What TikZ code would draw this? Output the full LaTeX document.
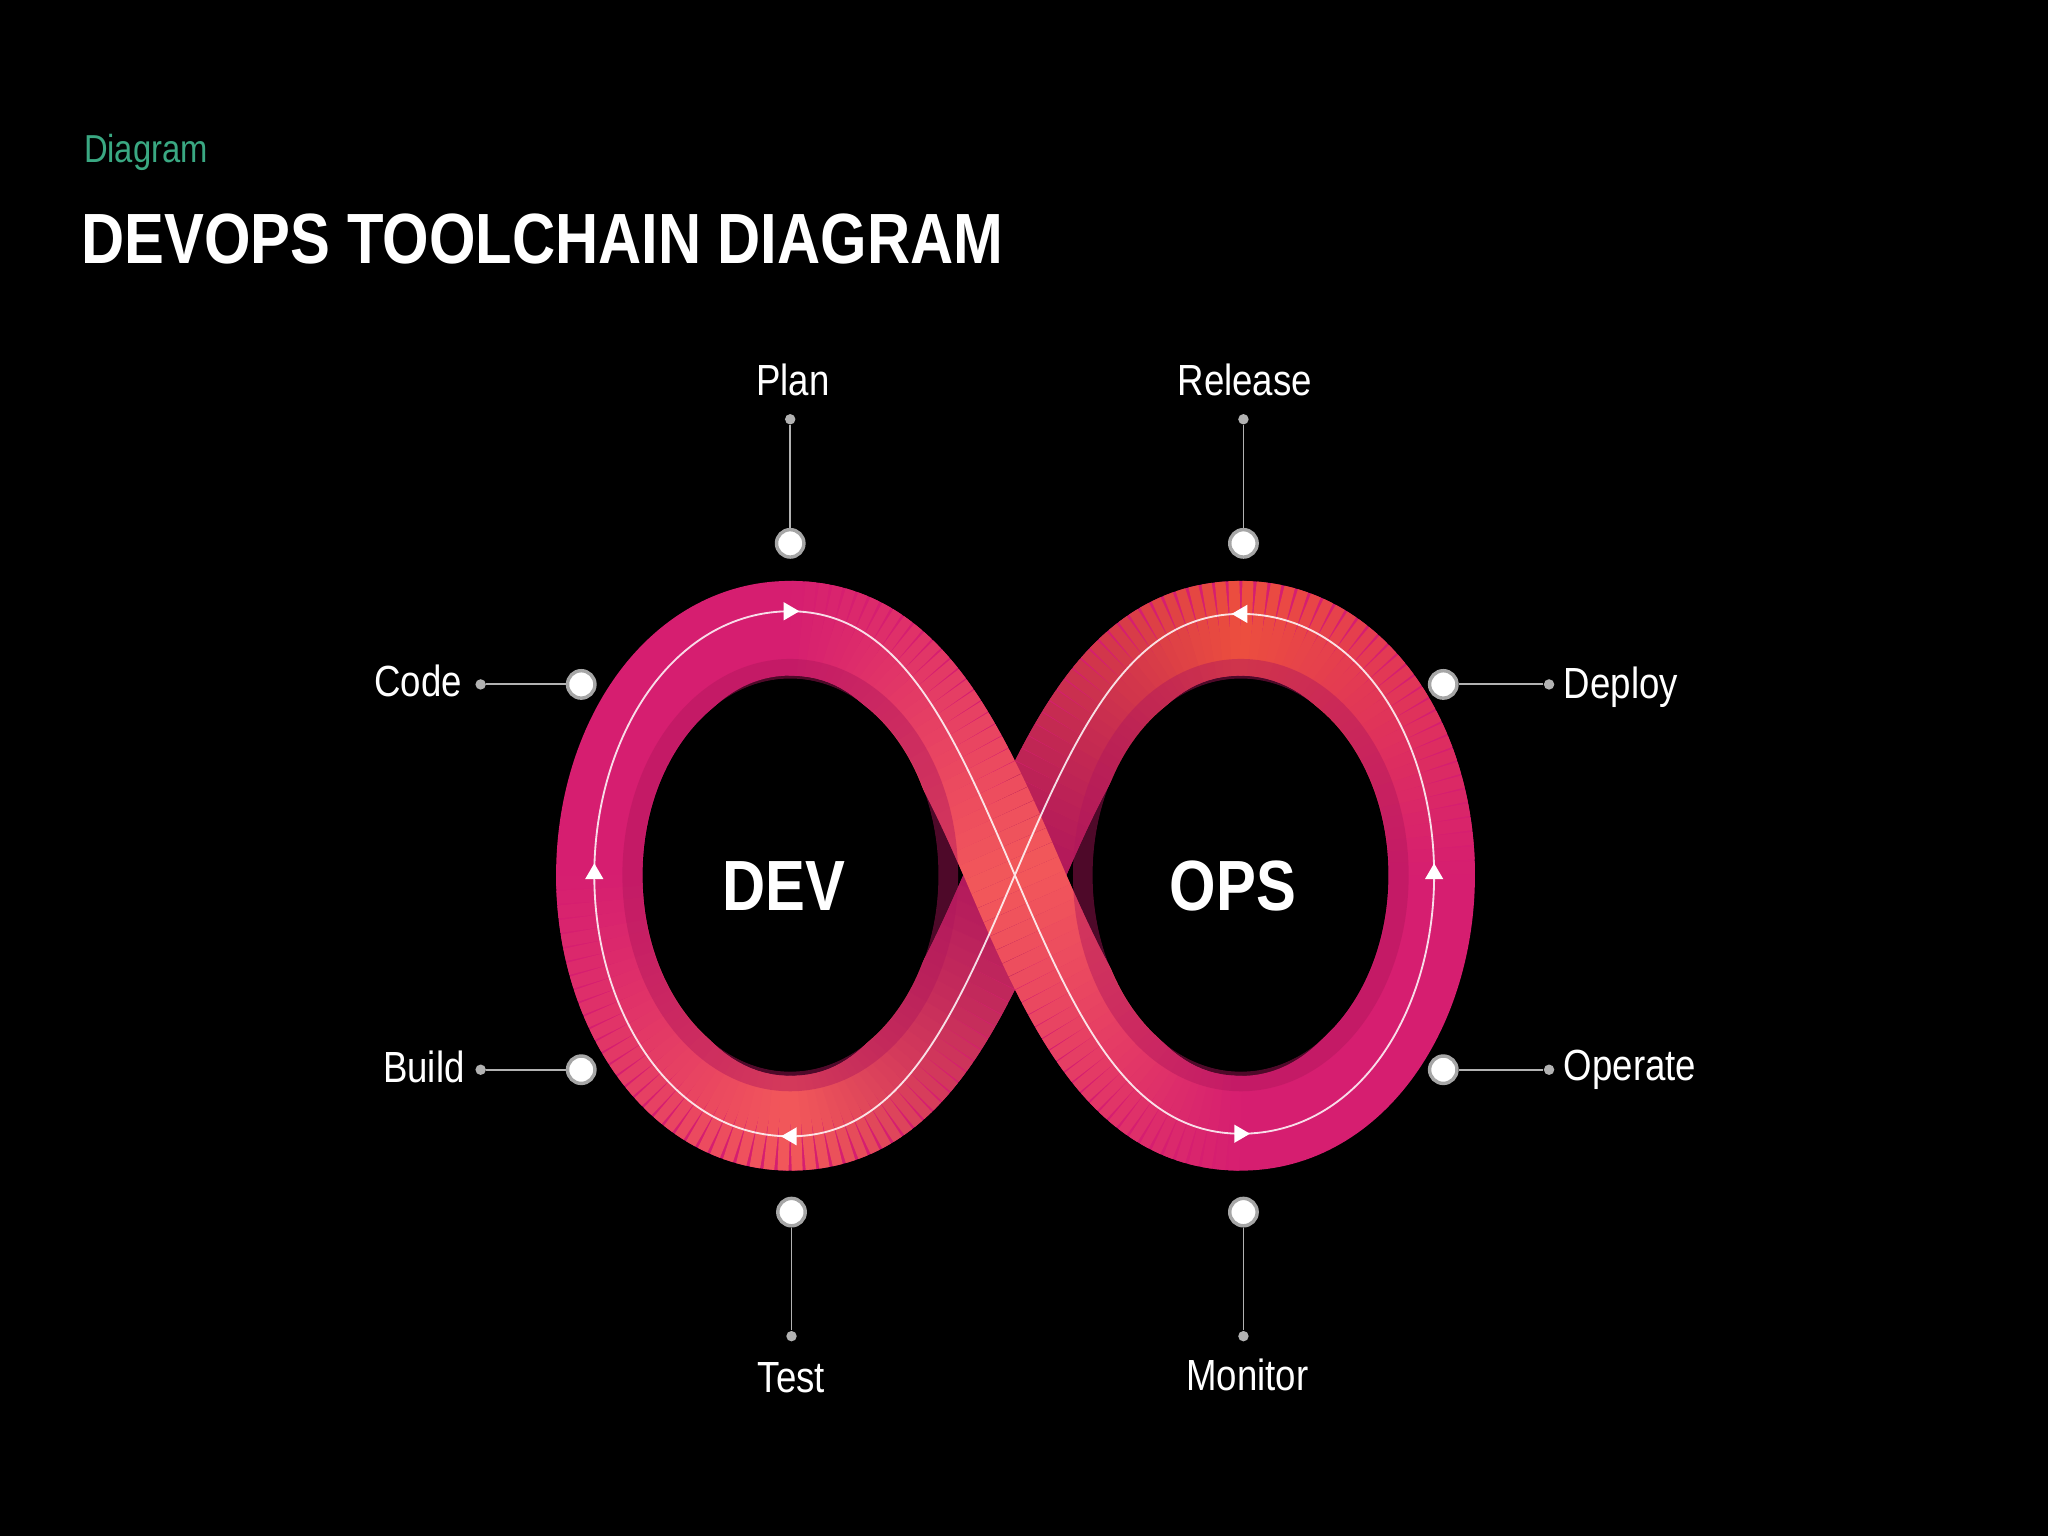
\documentclass[tikz,border=0pt]{standalone}
\usepackage{fontspec}
\setmainfont{Liberation Sans}
\newfontfamily\narrowf[FakeStretch=0.84]{Liberation Sans}
\newcommand\gradcurve[6]{%
 \foreach \i in {0,...,30}{\path #1 .. controls #2 and #3 .. #4 coordinate[pos=\i/30] (gq\i);}%
 \foreach \i in {0,...,29}{\pgfmathtruncatemacro\j{\i+1}\pgfmathtruncatemacro\p{(\i+0.5)*100/30}%
   \draw[band,color=#6!\p!#5] (gq\i) -- (gq\j);}}
\begin{document}
\begin{tikzpicture}[x=0.02cm,y=-0.02cm,
  lbl/.style={text=white,font=\narrowf\fontsize{19}{22}\selectfont,inner sep=0pt},
  ring/.style={circle,fill=white,draw=gray!70,line width=1.5pt,minimum size=0.42cm,inner sep=0pt},
  dot/.style={circle,fill=gray!60,minimum size=0.16cm,inner sep=0pt},
  lead/.style={draw=gray!60,line width=0.8pt},
  band/.style={line width=1.45cm},
  arr/.style={fill=white}]
\fill[black] (0,0) rectangle (1568,1176);
\useasboundingbox (0,0) rectangle (1568,1176);
\node[anchor=west,text={rgb,255:red,58;green,168;blue,130},font=\narrowf\fontsize{17}{20}\selectfont,inner sep=0pt] (sub) at (64,117) {Diagram};
\node[anchor=west,text=white,font=\narrowf\bfseries\fontsize{31}{36}\selectfont,inner sep=0pt] (title) at (62,183) {DEVOPS TOOLCHAIN DIAGRAM};
\definecolor{mag}{RGB}{214,30,112}
\definecolor{coral}{RGB}{242,88,90}
\definecolor{dmag}{RGB}{175,22,92}
\definecolor{orng}{RGB}{236,78,62}
% whole band magenta
\draw[mag,band]
 (777,670) .. controls (730,560) and (690,481) .. (605,481)
 .. controls (520,481) and (462,570) .. (462,670)
 .. controls (462,770) and (520,860) .. (605,860)
 .. controls (690,860) and (730,780) .. (777,670)
 .. controls (824,560) and (865,481) .. (950,481)
 .. controls (1035,481) and (1093,570) .. (1093,670)
 .. controls (1093,770) and (1035,860) .. (950,860)
 .. controls (865,860) and (824,780) .. (777,670);
% under strand colouring
\gradcurve{(462,670)}{(462,770)}{(520,860)}{(605,860)}{mag}{coral}
\gradcurve{(605,860)}{(690,860)}{(730,780)}{(777,670)}{coral}{dmag}
\gradcurve{(777,670)}{(824,560)}{(865,481)}{(950,481)}{dmag}{orng}
\gradcurve{(950,481)}{(1035,481)}{(1093,570)}{(1093,670)}{orng}{mag}
% top strand
\gradcurve{(605,481)}{(690,481)}{(730,560)}{(777,670)}{mag}{coral}
\gradcurve{(777,670)}{(824,780)}{(865,860)}{(950,860)}{coral}{mag}
% inner darker rims
\draw[dmag,line width=0.3cm,opacity=0.45] (605,670) ellipse (121 and 158);
\draw[dmag,line width=0.3cm,opacity=0.45] (950,670) ellipse (121 and 158);
% inner holes
\fill[black] (605,670) ellipse (113 and 150);
\fill[black] (950,670) ellipse (113 and 150);
% thin white flow line
\draw[white,line width=0.8pt,opacity=0.85]
 (777,670) .. controls (730,560) and (690,468) .. (605,468)
 .. controls (515,468) and (455,565) .. (455,670)
 .. controls (455,775) and (515,870) .. (605,870)
 .. controls (690,870) and (730,780) .. (777,670)
 .. controls (824,560) and (865,470) .. (950,470)
 .. controls (1040,470) and (1098,565) .. (1098,670)
 .. controls (1098,775) and (1040,868) .. (950,868)
 .. controls (865,868) and (824,780) .. (777,670);
% arrow heads
\fill[arr] (612,468) -- (600,461) -- (600,475) -- cycle;
\fill[arr] (455,661) -- (448,673) -- (462,673) -- cycle;
\fill[arr] (598,870) -- (610,863) -- (610,877) -- cycle;
\fill[arr] (943,470) -- (955,463) -- (955,477) -- cycle;
\fill[arr] (1098,661) -- (1091,673) -- (1105,673) -- cycle;
\fill[arr] (957,868) -- (945,861) -- (945,875) -- cycle;
% center labels
\node[text=white,font=\narrowf\bfseries\fontsize{31}{36}\selectfont] (dev) at (600,678) {DEV};
\node[text=white,font=\narrowf\bfseries\fontsize{31}{36}\selectfont] (ops) at (944,678) {OPS};
% markers
\node[ring] (rplan) at (605,416) {}; \node[dot] (dplan) at (605,321) {};
\node[ring] (rrel) at (952,416) {}; \node[dot] (drel) at (952,321) {};
\node[ring] (rcode) at (445,524) {}; \node[dot] (dcode) at (368,524) {};
\node[ring] (rdep) at (1105,524) {}; \node[dot] (ddep) at (1186,524) {};
\node[ring] (rbuild) at (445,819) {}; \node[dot] (dbuild) at (368,819) {};
\node[ring] (rop) at (1105,819) {}; \node[dot] (dop) at (1186,819) {};
\node[ring] (rtest) at (606,928) {}; \node[dot] (dtest) at (606,1023) {};
\node[ring] (rmon) at (952,928) {}; \node[dot] (dmon) at (952,1023) {};
\foreach \a/\b in {rplan/dplan,rrel/drel,rcode/dcode,rdep/ddep,rbuild/dbuild,rop/dop,rtest/dtest,rmon/dmon}
  \draw[lead] (\a) -- (\b);
\node[lbl] (plan) at (607,291) {Plan};
\node[lbl] (rel) at (953,291) {Release};
\node[lbl,anchor=east] (code) at (354,521) {Code};
\node[lbl,anchor=west] (dep) at (1197,526) {Deploy};
\node[lbl,anchor=east] (build) at (356,817) {Build};
\node[lbl,anchor=west] (op) at (1197,819) {Operate};
\node[lbl] (test) at (606,1055) {Test};
\node[lbl] (mon) at (955,1053) {Monitor};
\end{tikzpicture}
\end{document}
